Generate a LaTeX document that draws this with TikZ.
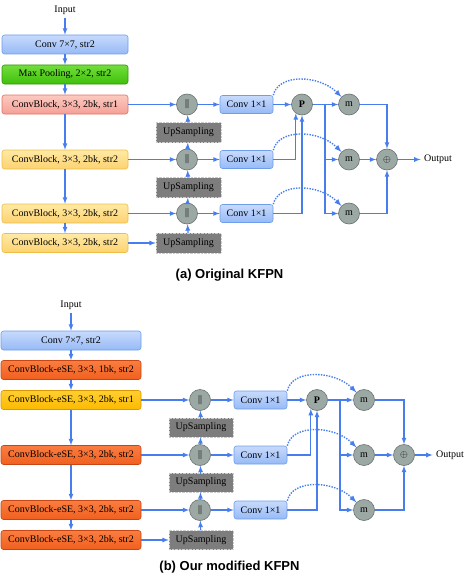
\documentclass[tikz,border=0pt]{standalone}
\usepackage{fontspec}
\setmainfont{Liberation Serif}
\newfontfamily\capfont{Liberation Sans}
\usepackage{tikz}

\definecolor{arrowblue}{RGB}{72,125,238}
\definecolor{convtop}{RGB}{200,218,252}
\definecolor{convbot}{RGB}{150,186,246}
\definecolor{convline}{RGB}{110,158,235}
\definecolor{pooltop}{RGB}{115,222,60}
\definecolor{poolbot}{RGB}{62,192,10}
\definecolor{poolline}{RGB}{50,150,10}
\definecolor{redtop}{RGB}{252,202,192}
\definecolor{redbot}{RGB}{245,160,150}
\definecolor{redline}{RGB}{226,112,102}
\definecolor{yeltop}{RGB}{255,234,165}
\definecolor{yelbot}{RGB}{252,210,112}
\definecolor{yelline}{RGB}{240,190,70}
\definecolor{orgtop}{RGB}{250,125,65}
\definecolor{orgbot}{RGB}{240,96,30}
\definecolor{orgline}{RGB}{200,70,20}
\definecolor{ambtop}{RGB}{255,208,50}
\definecolor{ambbot}{RGB}{252,185,0}
\definecolor{ambline}{RGB}{220,150,0}
\definecolor{upfill}{RGB}{125,125,125}
\definecolor{catfill}{RGB}{155,168,164}
\definecolor{catline}{RGB}{105,115,112}

\tikzstyle{txt}=[font=\fontsize{10}{12}\selectfont]
\tikzstyle{box}=[txt,rectangle,rounded corners=2.5pt,minimum height=19pt,inner sep=0pt,line width=0.6pt]
\tikzstyle{convbox}=[box,draw=convline,top color=convtop,bottom color=convbot]
\tikzstyle{poolbox}=[box,draw=poolline,top color=pooltop,bottom color=poolbot]
\tikzstyle{redbox}=[box,draw=redline,top color=redtop,bottom color=redbot]
\tikzstyle{yelbox}=[box,draw=yelline,top color=yeltop,bottom color=yelbot]
\tikzstyle{orgbox}=[box,draw=orgline,top color=orgtop,bottom color=orgbot]
\tikzstyle{ambbox}=[box,draw=ambline,top color=ambtop,bottom color=ambbot]
\tikzstyle{conv1}=[convbox,minimum width=53pt,minimum height=18pt]
\tikzstyle{upbox}=[txt,rectangle,fill=upfill,draw=white!80!black,densely dotted,minimum width=65pt,minimum height=20pt,inner sep=0pt]
\tikzstyle{merge}=[txt,circle,fill=catfill,draw=catline,line width=0.6pt,minimum size=21pt,inner sep=0pt]
\tikzstyle{link}=[draw=arrowblue,line width=1.2pt,->]
\tikzstyle{skip}=[draw=arrowblue,line width=1.4pt,dash pattern=on 1.4pt off 1.3pt,->]
\tikzstyle{caption}=[font=\capfont\bfseries\fontsize{13}{15}\selectfont]

\begin{document}
\begin{tikzpicture}[x=1pt,y=-1pt,>=latex]
\useasboundingbox (0,0) rectangle (474,578);

% (a) original KFPN
\node[txt] (in-a) at (65,10) {Input};
\foreach \name/\y/\sty/\text in {A-0/44.5/convbox/{Conv 7×7, str2},
                                 A-1/74.5/poolbox/{Max Pooling, 2×2, str2},
                                 A-2/104.5/redbox/{ConvBlock, 3×3, 2bk, str1},
                                 A-3/159.5/yelbox/{ConvBlock, 3×3, 2bk, str2},
                                 A-4/213.5/yelbox/{ConvBlock, 3×3, 2bk, str2},
                                 A-5/243/yelbox/{ConvBlock, 3×3, 2bk, str2}}
  \node[\sty,minimum width=126pt] (\name) at (65,\y) {\text};
\foreach \i/\y in {1/104.5,2/159.5,3/213.5} {
  \node[merge] (CA-\i) at (187,\y) {||};
  \node[conv1] (KA-\i) at (246.5,\y) {Conv 1×1};
  \node[merge] (MA-\i) at (349,\y) {m};
}
\foreach \i/\y in {1/132.5,2/187.5,3/243}
  \node[upbox] (UA-\i) at (188.5,\y) {UpSampling};
\node[merge,font=\bfseries\fontsize{10}{12}\selectfont] (PA) at (302,104.5) {P};
\coordinate (BA) at (325,104.5);
\node[merge] (SA) at (387,159.5) {$\oplus$};
\node[txt] (out-a) at (438,159.5) {Output};
\node[caption] (cap-a) at (229.5,275) {(a) Original KFPN};

\draw[link] (in-a) -- (A-0);
\foreach \from/\to in {0/1,1/2,2/3,3/4,4/5}
  \draw[link] (A-\from) -- (A-\to);
\foreach \from/\to in {2/1,3/2,4/3}
  \draw[link] (A-\from) -- (CA-\to);
\draw[link] (A-5) -- (UA-3);
\foreach \i/\j in {1/2,2/3}
  \draw[link] (CA-\j) -- (UA-\i);
\foreach \i in {1,2,3} {
  \draw[link] (UA-\i) -- (CA-\i);
  \draw[link] (CA-\i) -- (KA-\i);
  \draw[skip] (KA-\i.north east) .. controls +(5,-22) and +(-22,-22) .. (MA-\i.north west);
}
\draw[link] (KA-1) -- (PA);
\draw[link] (KA-2) -| (PA.235);
\draw[link] (KA-3) -| (PA);
\draw[link] (PA) -- (MA-1);
\draw[link] (BA) |- (MA-2);
\draw[link] (BA) |- (MA-3);
\draw[link] (MA-1) -| (SA);
\draw[link] (MA-2) -- (SA);
\draw[link] (MA-3) -| (SA);
\draw[link] (SA) -- (out-a);

% (b) modified KFPN
\node[txt] (in-b) at (71,305) {Input};
\foreach \name/\y/\sty/\text in {B-0/340.5/convbox/{Conv 7×7, str2},
                                 B-1/370/orgbox/{ConvBlock-eSE, 3×3, 1bk, str2},
                                 B-2/400/ambbox/{ConvBlock-eSE, 3×3, 2bk, str1},
                                 B-3/455/orgbox/{ConvBlock-eSE, 3×3, 2bk, str2},
                                 B-4/510/orgbox/{ConvBlock-eSE, 3×3, 2bk, str2},
                                 B-5/540/orgbox/{ConvBlock-eSE, 3×3, 2bk, str2}}
  \node[\sty,minimum width=140pt] (\name) at (71,\y) {\text};
\foreach \i/\y in {1/400,2/455,3/510} {
  \node[merge] (CB-\i) at (200,\y) {||};
  \node[conv1] (KB-\i) at (260.5,\y) {Conv 1×1};
  \node[merge] (MB-\i) at (364,\y) {m};
}
\foreach \i/\y in {1/427.5,2/482.5,3/540}
  \node[upbox,minimum width=64pt,minimum height=19pt] (UB-\i) at (201,\y) {UpSampling};
\node[merge,font=\bfseries\fontsize{10}{12}\selectfont] (PB) at (317,400) {P};
\coordinate (BB) at (340,400);
\node[merge] (SB) at (404,455) {$\oplus$};
\node[txt] (out-b) at (450,455) {Output};
\node[caption] (cap-b) at (229.5,567) {(b) Our modified KFPN};

\draw[link] (in-b) -- (B-0);
\foreach \from/\to in {0/1,1/2,2/3,3/4,4/5}
  \draw[link] (B-\from) -- (B-\to);
\foreach \from/\to in {2/1,3/2,4/3}
  \draw[link] (B-\from) -- (CB-\to);
\draw[link] (B-5) -- (UB-3);
\foreach \i/\j in {1/2,2/3}
  \draw[link] (CB-\j) -- (UB-\i);
\foreach \i in {1,2,3} {
  \draw[link] (UB-\i) -- (CB-\i);
  \draw[link] (CB-\i) -- (KB-\i);
  \draw[skip] (KB-\i.north east) .. controls +(5,-22) and +(-22,-22) .. (MB-\i.north west);
}
\draw[link] (KB-1) -- (PB);
\draw[link] (KB-2) -| (PB.235);
\draw[link] (KB-3) -| (PB);
\draw[link] (PB) -- (MB-1);
\draw[link] (BB) |- (MB-2);
\draw[link] (BB) |- (MB-3);
\draw[link] (MB-1) -| (SB);
\draw[link] (MB-2) -- (SB);
\draw[link] (MB-3) -| (SB);
\draw[link] (SB) -- (out-b);
\end{tikzpicture}
\end{document}
